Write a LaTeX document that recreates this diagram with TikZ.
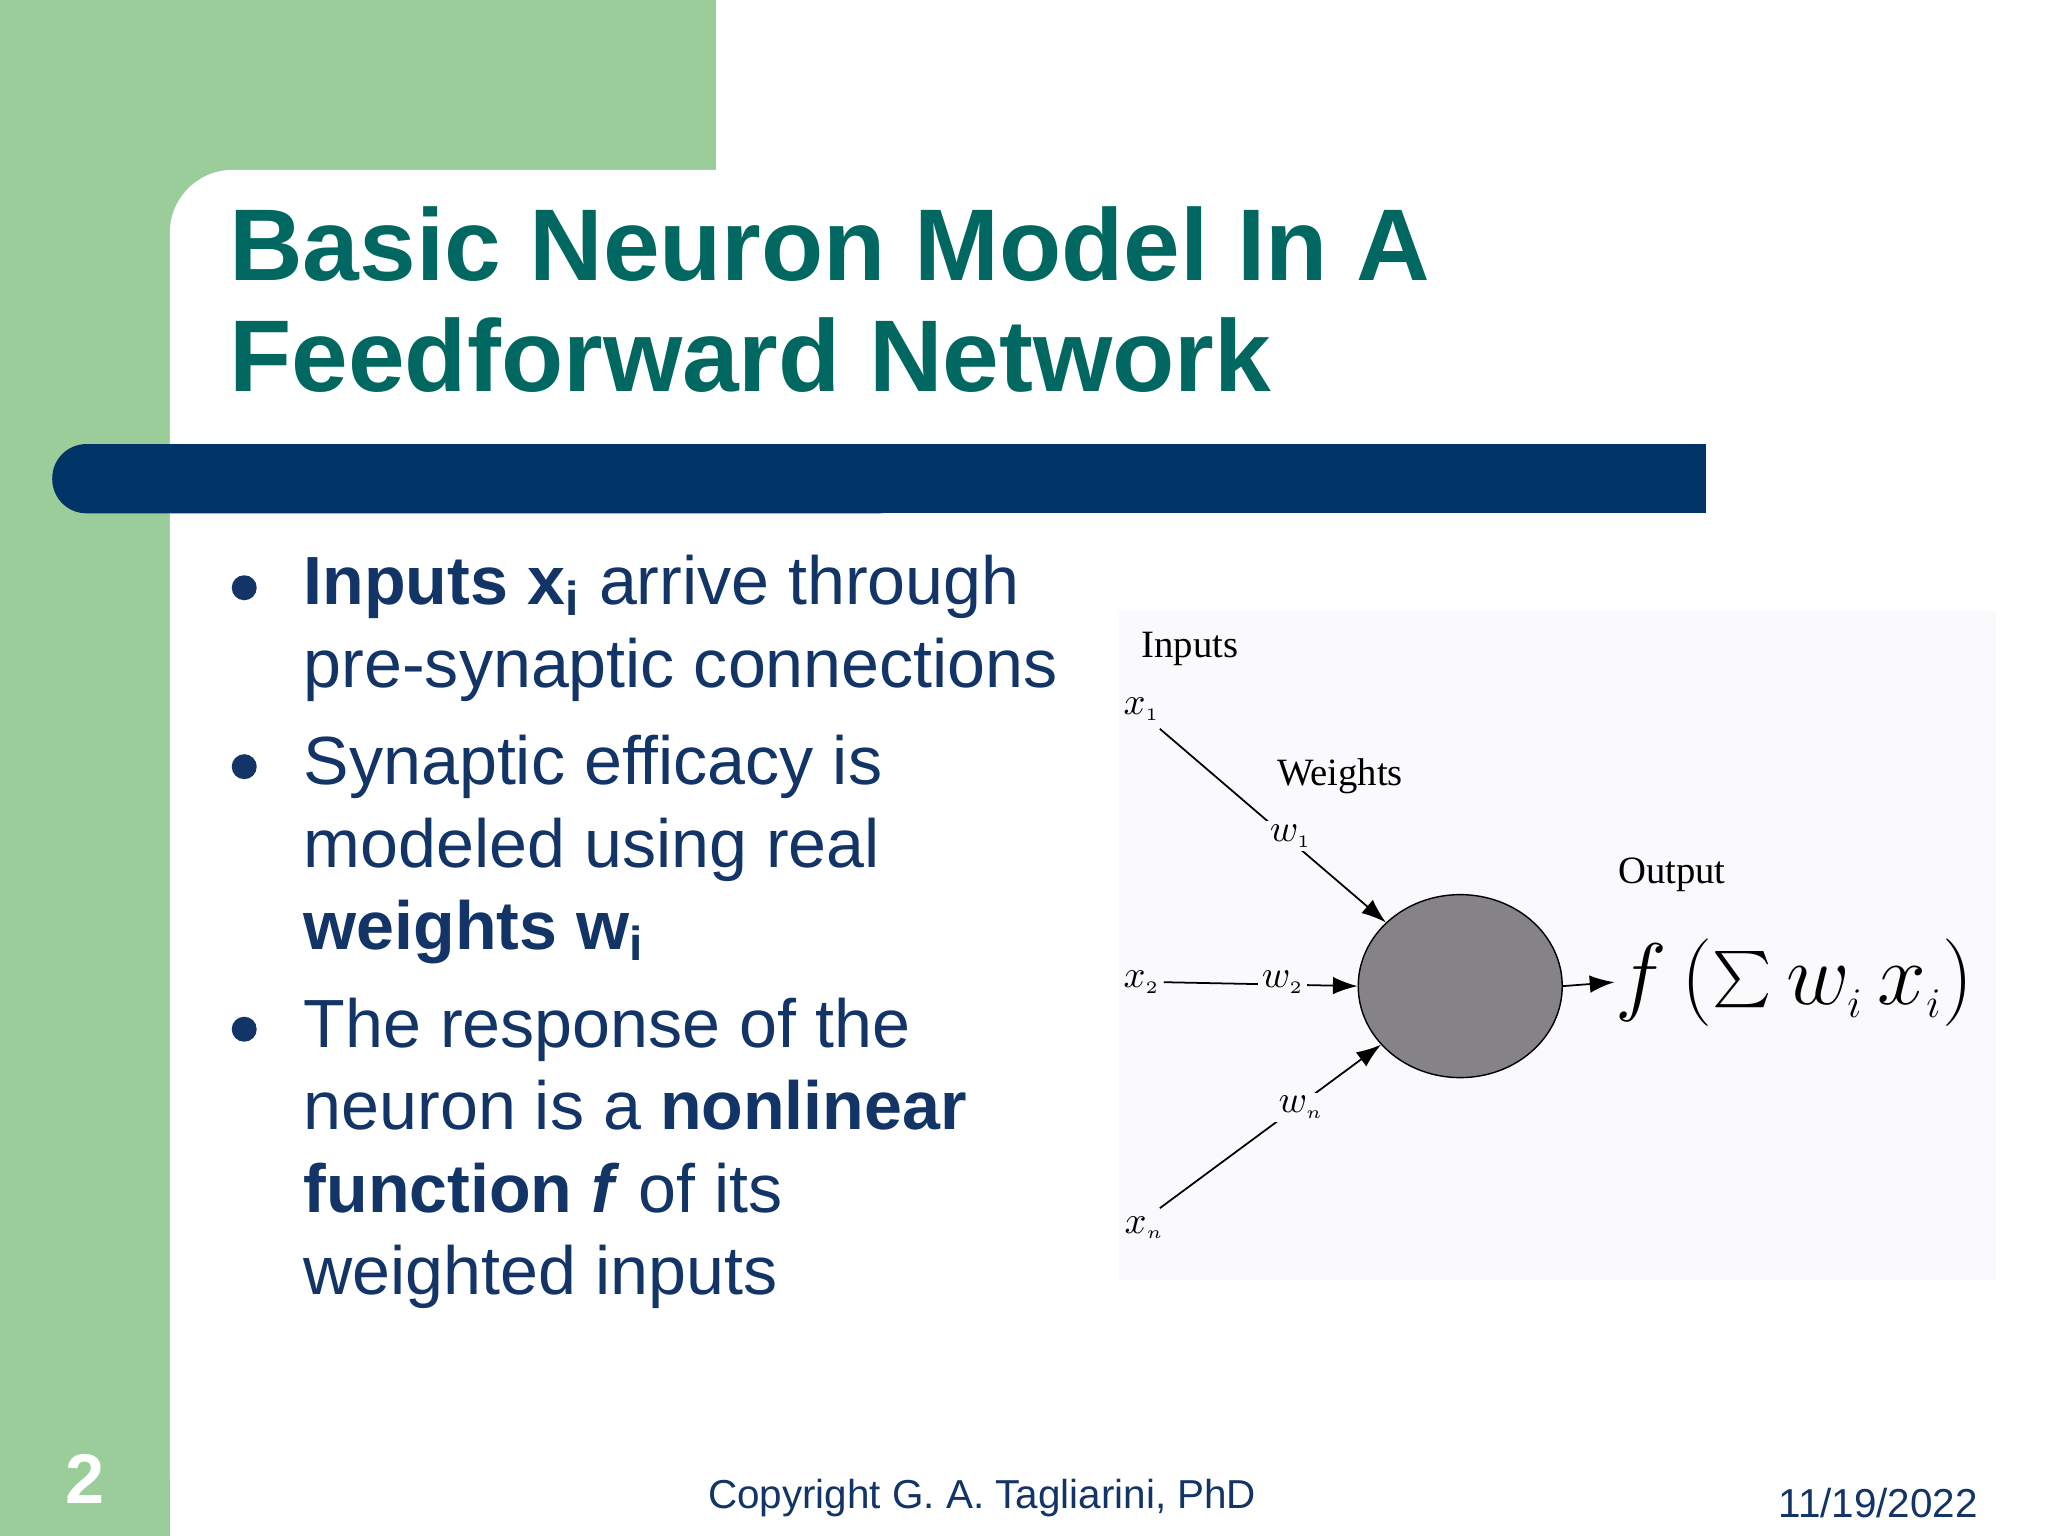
\documentclass[tikz,border=0pt]{standalone}
\usepackage{fontspec}
\setmainfont{Liberation Sans}
\newfontfamily\serifdiag{Liberation Serif}
\usetikzlibrary{arrows.meta,shapes.geometric}
\definecolor{sgreen}{RGB}{155,205,155}
\definecolor{steal}{RGB}{0,104,96}
\definecolor{snavy}{RGB}{0,51,102}
\definecolor{stext}{RGB}{18,52,102}
\definecolor{sgray}{RGB}{133,131,133}
\definecolor{sbg}{RGB}{250,249,252}
\tikzset{
 bul/.style={anchor=base west,text=stext,font=\fontsize{19.4}{23}\selectfont,inner sep=0pt},
 dot/.style={circle,fill=stext,inner sep=0pt,minimum size=0.25cm},
 dl/.style={font=\serifdiag\fontsize{11}{13}\selectfont,inner sep=0pt},
 conn/.style={draw=black,line width=0.5pt,-{Latex[length=7pt,width=5pt]}}
}
\begin{document}
\begin{tikzpicture}[x=0.013061cm,y=-0.013061cm]
\useasboundingbox (0,0) rectangle (1568,1176);
\fill[white] (0,0) rectangle (1568,1176);
\fill[sgreen] (0,0) rectangle (548,130);
\fill[sgreen] (0,0) rectangle (130,1176);
\fill[sgreen] (130,130) rectangle (220,220);
\fill[white,rounded corners=18pt] (130,1176) -- (130,130) -- (1568,130) -- (1568,1176) -- cycle;
\node[anchor=base west,text=steal,font=\bfseries\fontsize{29}{32}\selectfont,inner sep=0pt] (t1) at (175,215) {Basic Neuron Model In A};
\node[anchor=base west,text=steal,font=\bfseries\fontsize{29}{32}\selectfont,inner sep=0pt] (t2) at (175,300) {Feedforward Network};
\fill[snavy,rounded corners=9.7pt] (700,340) -- (40,340) -- (40,393) -- (700,393) -- cycle;
\fill[snavy] (600,340) rectangle (1306,393);
% bullets
\node[dot] (d1) at (187,450) {};
\node[bul] (b1) at (232,463) {\textbf{Inputs x\textsubscript{i}} arrive through};
\node[bul] (b1b) at (232,526) {pre-synaptic connections};
\node[dot] (d2) at (187,587) {};
\node[bul] (b2) at (232,601) {Synaptic efficacy is};
\node[bul] (b2b) at (232,664) {modeled using real};
\node[bul] (b2c) at (232,727) {\textbf{weights w\textsubscript{i}}};
\node[dot] (d3) at (187,788) {};
\node[bul] (b3) at (232,802) {The response of the};
\node[bul] (b3b) at (232,865) {neuron is a \textbf{nonlinear}};
\node[bul] (b3c) at (232,928) {\textbf{function \textit{f}} of its};
\node[bul] (b3d) at (232,991) {weighted inputs};
% diagram
\fill[sbg] (857,468) rectangle (1528,980);
\node[dl] (inp) at (911,497) {Inputs};
\node[dl] (x1) at (874,543) {$x_{\scriptscriptstyle 1}$};
\node[dl] (wt) at (1026,594) {Weights};
\node[dl] (x2) at (874,752) {$x_{\scriptscriptstyle 2}$};
\node[dl] (xn) at (876,940) {$x_{\scriptscriptstyle n}$};
\node[dl] (out) at (1280,670) {Output};
\node[draw=black,fill=sgray,ellipse,inner sep=0pt,minimum width=2.04cm,minimum height=1.83cm] (n) at (1118,755) {};
\coordinate (s1) at (888,558);
\coordinate (s2) at (891,752);
\coordinate (sn) at (888,925);
\draw[conn] (s1) -- (n);
\draw[conn] (s2) -- (n.west);
\draw[conn] (sn) -- (n);
\node[dl,fill=sbg,inner sep=1pt] (w1) at (988,640) {$w_{\scriptscriptstyle 1}$};
\node[dl,fill=sbg,inner sep=1pt] (w2) at (982,752) {$w_{\scriptscriptstyle 2}$};
\node[dl,fill=sbg,inner sep=1pt] (wn) at (996,848) {$w_{\scriptscriptstyle n}$};
\node[anchor=west,inner sep=0pt,font=\fontsize{26}{30}\selectfont] (f) at (1236,752) {$f\,\bigl(\raisebox{-0.12em}{\scalebox{1.6}{$\sum$}}\,w_{\scriptscriptstyle i}\,x_{\scriptscriptstyle i}\bigr)$};
\draw[conn] (n.east) -- (f.west);
% footer
\node[text=white,font=\bfseries\fontsize{20}{24}\selectfont] (pg) at (65,1132) {2};
\node[text=stext,font=\fontsize{11.5}{14}\selectfont] (cp) at (752,1147) {Copyright G. A. Tagliarini, PhD};
\node[text=stext,font=\fontsize{11.5}{14}\selectfont] (dt) at (1438,1151) {11/19/2022};
\end{tikzpicture}
\end{document}
